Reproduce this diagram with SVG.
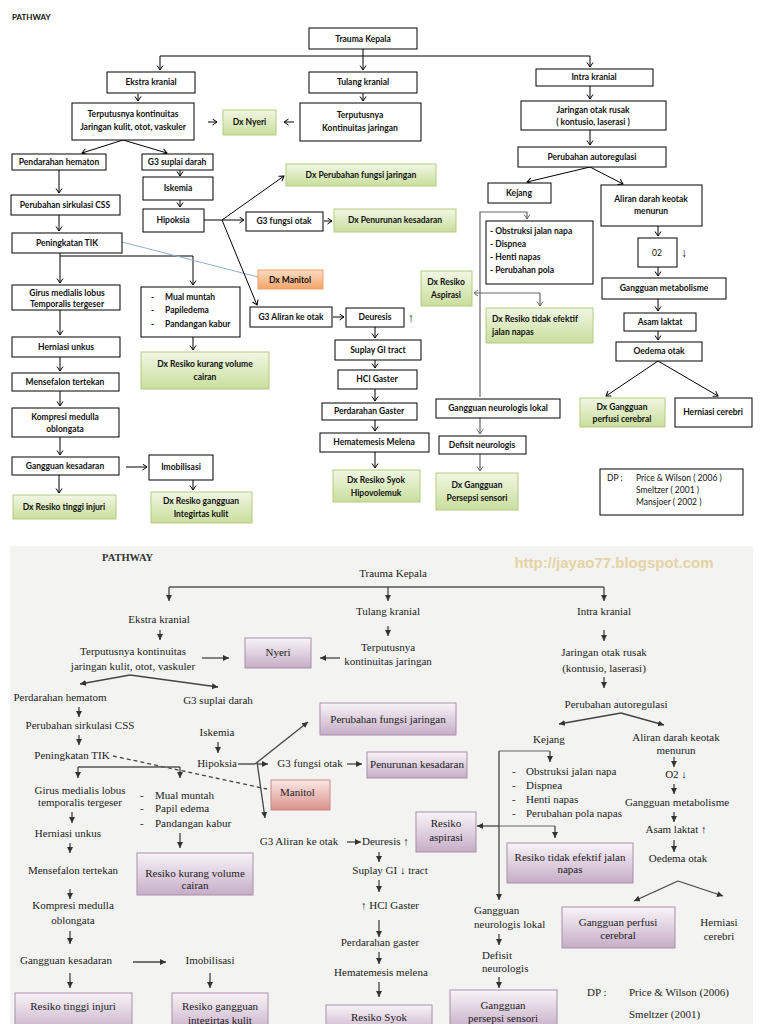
<svg xmlns="http://www.w3.org/2000/svg" width="768" height="1024" viewBox="0 0 768 1024">
<defs>
<linearGradient id="gGreen" x1="0" y1="0" x2="0" y2="1"><stop offset="0" stop-color="#f1f7e4"/><stop offset="1" stop-color="#c9de9c"/></linearGradient>
<linearGradient id="gOrange" x1="0" y1="0" x2="0" y2="1"><stop offset="0" stop-color="#fcdcc2"/><stop offset="1" stop-color="#f5a468"/></linearGradient>
<linearGradient id="gPurple" x1="0" y1="0" x2="0" y2="1"><stop offset="0" stop-color="#f8f4f8"/><stop offset="1" stop-color="#c6adc6"/></linearGradient>
<linearGradient id="gRed" x1="0" y1="0" x2="0" y2="1"><stop offset="0" stop-color="#fbe8e6"/><stop offset="1" stop-color="#d9918c"/></linearGradient>
<marker id="aOpen" markerWidth="8" markerHeight="8" refX="5" refY="3.5" orient="auto" markerUnits="userSpaceOnUse"><path d="M0.5,0.5 L5,3.5 L0.5,6.5" fill="none" stroke="#000" stroke-width="1"/></marker>
<marker id="aGray" markerWidth="8" markerHeight="8" refX="5" refY="3.5" orient="auto" markerUnits="userSpaceOnUse"><path d="M0.5,0.5 L5,3.5 L0.5,6.5" fill="none" stroke="#666" stroke-width="1"/></marker>
<marker id="aFill" markerWidth="8" markerHeight="8" refX="6" refY="3" orient="auto" markerUnits="userSpaceOnUse"><path d="M0,0 L6,3 L0,6 Z" fill="#333"/></marker>
</defs>
<style>
.b{fill:#fff;stroke:#000;stroke-width:1}
.g{fill:url(#gGreen);stroke:#b3cb80;stroke-width:1}
.o{fill:url(#gOrange);stroke:#eda06a;stroke-width:1}
.p{fill:url(#gPurple);stroke:#a990a9;stroke-width:1}
.r{fill:url(#gRed);stroke:#c98a86;stroke-width:1}
.t{font-family:Lato,"Liberation Sans",sans-serif;font-weight:700;font-size:8.5px;fill:#111;text-anchor:middle}
.tl{font-family:Lato,"Liberation Sans",sans-serif;font-weight:700;font-size:8.5px;fill:#111}
.ar{font-family:"Liberation Serif",serif;font-weight:400;fill:#111;text-anchor:middle}
.s{font-family:"Liberation Serif",serif;font-size:11px;fill:#1c1c1c;text-anchor:middle}
.sl{font-family:"Liberation Serif",serif;font-size:11px;fill:#1c1c1c}
.c{fill:none;stroke:#000;stroke-width:1;marker-end:url(#aOpen)}
.cn{fill:none;stroke:#000;stroke-width:1}
.cg{fill:none;stroke:#666;stroke-width:1.2}
.cgA{fill:none;stroke:#666;stroke-width:1.2;marker-end:url(#aGray)}
.k{fill:none;stroke:#444;stroke-width:1.3;marker-end:url(#aFill)}
.kn{fill:none;stroke:#555;stroke-width:1.5}
</style>
<rect width="768" height="1024" fill="#fff"/>

<!-- ================= TOP DIAGRAM ================= -->
<text x="12" y="20" class="tl" style="font-size:8px">PATHWAY</text>

<g id="connectors-top">
<path class="cn" d="M363 49 V56 M160 56 H590"/>
<path class="c" d="M160 56 V70"/>
<path class="c" d="M363 56 V70"/>
<path class="c" d="M590 56 V67"/>
<path class="c" d="M138 94 V101"/>
<path class="c" d="M363 93 V101"/>
<path class="c" d="M590 86 V99"/>
<path class="c" d="M590 130 V145"/>
<path class="c" d="M208 122 H217"/>
<path class="c" d="M294 122 H284"/>
<path class="c" d="M123 140 L82 153"/>
<path class="c" d="M123 140 L167 153"/>
<path class="c" d="M59 170 V193"/>
<path class="c" d="M180 170 V176"/>
<path class="c" d="M180 200 V207"/>
<path class="c" d="M59 215 V231"/>
<path class="cn" d="M60 253 V256 H193"/>
<path class="c" d="M60 256 V283"/>
<path class="c" d="M193 256 V285"/>
<path d="M122 242 L258 277" fill="none" stroke="#8eaed6" stroke-width="1"/>
<path class="c" d="M60 310 V335"/>
<path class="c" d="M193 337 V350"/>
<path class="c" d="M60 357 V371"/>
<path class="c" d="M60 391 V406"/>
<path class="c" d="M60 437 V455"/>
<path class="c" d="M126 467 H147"/>
<path class="c" d="M193 480 V490"/>
<path class="c" d="M59 475 V493"/>
<path class="cn" d="M204 220 H222"/>
<path class="c" d="M222 220 L284 176"/>
<path class="c" d="M222 220 H244"/>
<path class="c" d="M222 220 L257 305"/>
<path class="c" d="M324 221 H332"/>
<path class="c" d="M333 317 H344"/>
<path class="c" d="M375 327 V338"/>
<path class="c" d="M375 360 V368"/>
<path class="c" d="M375 389 V401"/>
<path class="c" d="M375 420 V431"/>
<path class="c" d="M375 452 V468"/>
<path class="c" d="M590 167 L527 182"/>
<path class="c" d="M590 167 L623 184"/>
<path class="cgA" d="M480 397 V212 H527 V219"/>
<path class="cg" d="M540 293 H474"/>
<path d="M478 290 L474 293 L478 296" fill="none" stroke="#666" stroke-width="1"/>
<path class="cgA" d="M540 293 V306"/>
<path class="c" d="M658 226 V236"/>
<path class="c" d="M658 267 V276"/>
<path class="c" d="M658 299 V311"/>
<path class="c" d="M658 331 V340"/>
<path class="c" d="M658 361 L606 396"/>
<path class="c" d="M658 361 L718 396"/>
<path class="cgA" d="M480 418 V434"/>
<path class="cgA" d="M480 454 V471"/>
</g>

<g id="t-trauma"><rect class="b" x="309" y="28" width="108" height="21"/><text class="t" x="363" y="42">Trauma Kepala</text></g>
<g id="t-ekstra"><rect class="b" x="107" y="72" width="88" height="21"/><text class="t" x="151" y="85">Ekstra kranial</text></g>
<g id="t-tulang"><rect class="b" x="309" y="72" width="108" height="21"/><text class="t" x="363" y="85">Tulang kranial</text></g>
<g id="t-intra"><rect class="b" x="536" y="69" width="117" height="17"/><text class="t" x="594" y="80">Intra kranial</text></g>
<g id="t-terputus1"><rect class="b" x="72" y="103" width="122" height="37"/><text class="t" x="133" y="117">Terputusnya kontinuitas</text><text class="t" x="133" y="130">Jaringan kulit, otot, vaskuler</text></g>
<g id="t-nyeri"><rect class="g" x="223" y="110" width="53" height="25"/><text class="t" x="249.5" y="125">Dx Nyeri</text></g>
<g id="t-terputus2"><rect class="b" x="300" y="103" width="121" height="38"/><text class="t" x="360" y="118">Terputusnya</text><text class="t" x="360" y="131">Kontinuitas jaringan</text></g>
<g id="t-jaringan"><rect class="b" x="521" y="101" width="145" height="29"/><text class="t" x="593" y="113">Jaringan otak rusak</text><text class="t" x="593" y="125">( kontusio, laserasi )</text></g>
<g id="t-autoreg"><rect class="b" x="518" y="147" width="148" height="20"/><text class="t" x="592" y="160">Perubahan autoregulasi</text></g>
<g id="t-pendarahan"><rect class="b" x="12" y="154" width="94" height="16"/><text class="t" x="59" y="165">Pendarahan hematon</text></g>
<g id="t-g3suplai"><rect class="b" x="142" y="154" width="71" height="16"/><text class="t" x="177" y="165">G3 suplai darah</text></g>
<g id="t-iskemia"><rect class="b" x="143" y="177" width="70" height="23"/><text class="t" x="178" y="191">Iskemia</text></g>
<g id="t-hipoksia"><rect class="b" x="143" y="209" width="61" height="23"/><text class="t" x="173" y="223">Hipoksia</text></g>
<g id="t-sirkulasi"><rect class="b" x="11" y="195" width="109" height="20"/><text class="t" x="65" y="208">Perubahan sirkulasi CSS</text></g>
<g id="t-tik"><rect class="b" x="12" y="233" width="110" height="20"/><text class="t" x="67" y="246">Peningkatan TIK</text></g>
<g id="t-manitol"><rect class="o" x="258" y="270" width="65" height="19"/><text class="t" x="290" y="283">Dx Manitol</text></g>
<g id="t-girus"><rect class="b" x="12" y="285" width="108" height="25"/><text class="t" x="67" y="296">Girus medialis lobus</text><text class="t" x="67" y="307">Temporalis tergeser</text></g>
<g id="t-mual"><rect class="b" x="141" y="287" width="99" height="50"/>
<text class="tl" x="151" y="300">-</text><text class="tl" x="165" y="300">Mual muntah</text>
<text class="tl" x="151" y="313">-</text><text class="tl" x="165" y="313">Papiledema</text>
<text class="tl" x="151" y="327">-</text><text class="tl" x="165" y="327">Pandangan kabur</text></g>
<g id="t-herniasi"><rect class="b" x="12" y="337" width="108" height="20"/><text class="t" x="66" y="350">Herniasi unkus</text></g>
<g id="t-kurangvol"><rect class="g" x="141" y="352" width="128" height="37"/><text class="t" x="205" y="367">Dx Resiko kurang volume</text><text class="t" x="205" y="380">cairan</text></g>
<g id="t-mensefalon"><rect class="b" x="12" y="373" width="107" height="18"/><text class="t" x="65" y="385">Mensefalon tertekan</text></g>
<g id="t-kompresi"><rect class="b" x="12" y="408" width="107" height="29"/><text class="t" x="65" y="420">Kompresi medulla</text><text class="t" x="65" y="432">oblongata</text></g>
<g id="t-kesadaran"><rect class="b" x="12" y="457" width="107" height="18"/><text class="t" x="65" y="469">Gangguan kesadaran</text></g>
<g id="t-imobilisasi"><rect class="b" x="149" y="455" width="64" height="25"/><text class="t" x="181" y="470">Imobilisasi</text></g>
<g id="t-integritas"><rect class="g" x="151" y="492" width="101" height="31"/><text class="t" x="201" y="504">Dx Resiko gangguan</text><text class="t" x="201" y="517">Integirtas kulit</text></g>
<g id="t-injuri"><rect class="g" x="13" y="495" width="103" height="24"/><text class="t" x="64" y="510">Dx Resiko tinggi injuri</text></g>
<g id="t-fungsijar"><rect class="g" x="286" y="164" width="150" height="22"/><text class="t" x="361" y="178">Dx Perubahan fungsi jaringan</text></g>
<g id="t-g3fungsi"><rect class="b" x="246" y="212" width="77" height="19"/><text class="t" x="284" y="224">G3 fungsi otak</text></g>
<g id="t-penurunan"><rect class="g" x="334" y="209" width="122" height="23"/><text class="t" x="395" y="223">Dx Penurunan kesadaran</text></g>
<g id="t-g3aliran"><rect class="b" x="250" y="307" width="82" height="20"/><text class="t" x="291" y="320">G3 Aliran ke otak</text></g>
<g id="t-deuresis"><rect class="b" x="346" y="308" width="58" height="19"/><text class="t" x="375" y="320">Deuresis</text><text class="ar" x="411" y="322" style="font-size:13px">↑</text></g>
<g id="t-suplay"><rect class="b" x="335" y="340" width="86" height="20"/><text class="t" x="378" y="353">Suplay GI tract</text></g>
<g id="t-hcl"><rect class="b" x="338" y="370" width="79" height="19"/><text class="t" x="377" y="382">HCl Gaster</text></g>
<g id="t-perdgaster"><rect class="b" x="322" y="403" width="95" height="17"/><text class="t" x="369" y="414">Perdarahan Gaster</text></g>
<g id="t-hematemesis"><rect class="b" x="320" y="433" width="109" height="19"/><text class="t" x="374" y="445">Hematemesis Melena</text></g>
<g id="t-syok"><rect class="g" x="333" y="470" width="87" height="32"/><text class="t" x="376" y="483">Dx Resiko Syok</text><text class="t" x="376" y="496">Hipovolemuk</text></g>
<g id="t-kejang"><rect class="b" x="488" y="183" width="63" height="20"/><text class="t" x="519" y="196">Kejang</text></g>
<g id="t-aliran"><rect class="b" x="601" y="185" width="101" height="41"/><text class="t" x="651" y="202">Aliran darah keotak</text><text class="t" x="651" y="214">menurun</text></g>
<g id="t-obstruksi"><rect class="b" x="486" y="221" width="107" height="63"/>
<text class="tl" x="490" y="234">- Obstruksi jalan napa</text><text class="tl" x="490" y="247">- Dispnea</text><text class="tl" x="490" y="260">- Henti napas</text><text class="tl" x="490" y="273">- Perubahan pola</text></g>
<g id="t-aspirasi"><rect class="g" x="421" y="271" width="51" height="35"/><text class="t" x="446" y="285">Dx Resiko</text><text class="t" x="446" y="298">Aspirasi</text></g>
<g id="t-efektif"><rect class="g" x="486" y="308" width="107" height="35"/><text class="tl" x="492" y="322">Dx Resiko tidak efektif</text><text class="tl" x="492" y="335">jalan napas</text></g>
<g id="t-o2"><rect class="b" x="638" y="238" width="39" height="29"/><text class="t" x="657" y="256" style="font-weight:400">02</text><text class="ar" x="684" y="257" fill="#111" style="font-size:12px">↓</text></g>
<g id="t-metabolisme"><rect class="b" x="602" y="278" width="124" height="21"/><text class="t" x="664" y="291">Gangguan metabolisme</text></g>
<g id="t-asam"><rect class="b" x="624" y="313" width="72" height="18"/><text class="t" x="660" y="325">Asam laktat</text></g>
<g id="t-oedema"><rect class="b" x="616" y="342" width="86" height="19"/><text class="t" x="659" y="354">Oedema otak</text></g>
<g id="t-perfusi"><rect class="g" x="580" y="398" width="85" height="29"/><text class="t" x="622" y="410">Dx Gangguan</text><text class="t" x="622" y="422">perfusi cerebral</text></g>
<g id="t-herniasicer"><rect class="b" x="675" y="398" width="77" height="29"/><text class="t" x="713" y="415">Herniasi cerebri</text></g>
<g id="t-neurolokal"><rect class="b" x="436" y="399" width="124" height="19"/><text class="t" x="498" y="411">Gangguan neurologis lokal</text></g>
<g id="t-defisit"><rect class="b" x="439" y="436" width="87" height="18"/><text class="t" x="482" y="448">Defisit neurologis</text></g>
<g id="t-persepsi"><rect class="g" x="436" y="473" width="82" height="37"/><text class="t" x="477" y="488">Dx Gangguan</text><text class="t" x="477" y="501">Persepsi sensori</text></g>
<g id="t-dp"><rect class="b" x="600" y="469" width="143" height="46"/>
<text class="tl" x="607" y="481" style="font-weight:400">DP :</text>
<text class="tl" x="636" y="481" style="font-weight:400">Price &amp; Wilson ( 2006 )</text>
<text class="tl" x="636" y="493" style="font-weight:400">Smeltzer ( 2001 )</text>
<text class="tl" x="636" y="505" style="font-weight:400">Mansjoer ( 2002 )</text></g>

<!-- ================= BOTTOM DIAGRAM ================= -->
<rect x="10" y="546" width="743" height="478" fill="#f3f3f1"/>
<text x="102" y="561" style="font-family:'Liberation Serif',serif;font-weight:700;font-size:10.5px;fill:#333">PATHWAY</text>
<text x="614" y="568" text-anchor="middle" style="font-family:'Liberation Sans',sans-serif;font-weight:700;font-size:15px;fill:#e6d3a4">http://jayao77.blogspot.com</text>

<g id="connectors-bottom">
<path class="kn" d="M169 587 H604"/>
<path class="k" d="M169 587 V601"/>
<path class="k" d="M388 587 V601"/>
<path class="k" d="M604 587 V601"/>
<path class="k" d="M160 630 V640"/>
<path class="k" d="M388 626 V636"/>
<path class="k" d="M604 630 V641"/>
<path class="k" d="M202 658 H229"/>
<path class="k" d="M340 658 H320"/>
<path class="k" d="M604 677 V688"/>
<path class="k" d="M130 675 L80 684"/>
<path class="k" d="M130 675 L218 687"/>
<path class="k" d="M79 707 V717"/>
<path class="k" d="M79 735 V745"/>
<path d="M113 756 L267 789" fill="none" stroke="#444" stroke-width="1.3" stroke-dasharray="4 3"/>
<path class="kn" d="M78 767 H180"/>
<path class="k" d="M78 767 V778"/>
<path class="k" d="M180 767 V778"/>
<path class="k" d="M72 812 V823"/>
<path class="k" d="M70 843 V853"/>
<path class="k" d="M70 889 V899"/>
<path class="k" d="M70 931 V944"/>
<path class="k" d="M133 962 H166"/>
<path class="k" d="M210 973 V988"/>
<path class="k" d="M70 973 V988"/>
<path class="k" d="M180 833 V848"/>
<path class="k" d="M218 742 V753"/>
<path class="kn" d="M238 764 H255"/>
<path class="k" d="M255 764 L308 722"/>
<path class="k" d="M258 764 H268"/>
<path class="k" d="M257 762 L265 818"/>
<path class="k" d="M347 764 H362"/>
<path class="k" d="M347 842 H361"/>
<path class="k" d="M379 852 V862"/>
<path class="k" d="M379 880 V892"/>
<path class="k" d="M379 920 V937"/>
<path class="k" d="M379 952 V964"/>
<path class="k" d="M379 982 V997"/>
<path class="k" d="M621 713 L559 724"/>
<path class="k" d="M621 713 L664 725"/>
<path class="cg" d="M499 751 H550"/>
<path class="k" d="M550 751 V762"/>
<path class="k" d="M499 751 V900"/>
<path d="M499 826 H555" fill="none" stroke="#666" stroke-width="1.2"/>
<path class="k" d="M499 826 H477"/>
<path class="k" d="M555 826 V838"/>
<path class="k" d="M674 757 V767"/>
<path class="k" d="M674 784 V794"/>
<path class="k" d="M674 812 V822"/>
<path class="k" d="M674 840 V852"/>
<path class="k" d="M678 881 L634 901"/>
<path class="k" d="M678 881 L723 896"/>
<path class="k" d="M499 934 V945"/>
<path class="k" d="M499 977 V988"/>
</g>

<g id="b-trauma"><text class="s" x="393" y="577">Trauma Kepala</text></g>
<g id="b-ekstra"><text class="s" x="159" y="623">Ekstra kranial</text></g>
<g id="b-tulang"><text class="s" x="388" y="615">Tulang kranial</text></g>
<g id="b-intra"><text class="s" x="604" y="615">Intra kranial</text></g>
<g id="b-terputus1"><text class="s" x="133" y="655">Terputusnya kontinuitas</text><text class="s" x="133" y="670">jaringan kulit, otot, vaskuler</text></g>
<g id="b-nyeri"><rect class="p" x="245" y="638" width="66" height="30"/><text class="s" x="278" y="656">Nyeri</text></g>
<g id="b-terputus2"><text class="s" x="388" y="651">Terputusnya</text><text class="s" x="388" y="665">kontinuitas jaringan</text></g>
<g id="b-jaringan"><text class="s" x="604" y="656">Jaringan otak rusak</text><text class="s" x="604" y="672">(kontusio, laserasi)</text></g>
<g id="b-autoreg"><text class="s" x="616" y="708">Perubahan autoregulasi</text></g>
<g id="b-pendarahan"><text class="s" x="60" y="701">Perdarahan hematom</text></g>
<g id="b-g3suplai"><text class="s" x="218" y="704">G3 suplai darah</text></g>
<g id="b-sirkulasi"><text class="s" x="80" y="729">Perubahan sirkulasi CSS</text></g>
<g id="b-tik"><text class="s" x="72" y="759">Peningkatan TIK</text></g>
<g id="b-girus"><text class="s" x="80" y="794">Girus medialis lobus</text><text class="s" x="80" y="806">temporalis tergeser</text></g>
<g id="b-herniasi"><text class="s" x="68" y="837">Herniasi unkus</text></g>
<g id="b-mensefalon"><text class="s" x="73" y="874">Mensefalon tertekan</text></g>
<g id="b-kompresi"><text class="s" x="73" y="909">Kompresi medulla</text><text class="s" x="73" y="924">oblongata</text></g>
<g id="b-kesadaran"><text class="s" x="66" y="964">Gangguan kesadaran</text></g>
<g id="b-imobilisasi"><text class="s" x="210" y="964">Imobilisasi</text></g>
<g id="b-injuri"><rect class="p" x="15" y="993" width="117" height="40"/><text class="s" x="73" y="1010">Resiko tinggi injuri</text></g>
<g id="b-integritas"><rect class="p" x="172" y="993" width="96" height="40"/><text class="s" x="220" y="1010">Resiko gangguan</text><text class="s" x="220" y="1024">integirtas kulit</text></g>
<g id="b-mual">
<text class="sl" x="140" y="799">-</text><text class="sl" x="155" y="799">Mual muntah</text>
<text class="sl" x="140" y="812">-</text><text class="sl" x="155" y="812">Papil edema</text>
<text class="sl" x="140" y="827">-</text><text class="sl" x="155" y="827">Pandangan kabur</text></g>
<g id="b-kurangvol"><rect class="p" x="137" y="853" width="116" height="42"/><text class="s" x="195" y="877">Resiko kurang volume</text><text class="s" x="195" y="889">cairan</text></g>
<g id="b-iskemia"><text class="s" x="217" y="736">Iskemia</text></g>
<g id="b-hipoksia"><text class="s" x="217" y="767">Hipoksia</text></g>
<g id="b-fungsijar"><rect class="p" x="320" y="703" width="136" height="32"/><text class="s" x="388" y="723">Perubahan fungsi jaringan</text></g>
<g id="b-g3fungsi"><text class="s" x="310" y="767">G3 fungsi otak</text></g>
<g id="b-penurunan"><rect class="p" x="367" y="752" width="100" height="26"/><text class="s" x="417" y="768">Penurunan kesadaran</text></g>
<g id="b-manitol"><rect class="r" x="271" y="780" width="59" height="30"/><text class="sl" x="280" y="796">Manitol</text></g>
<g id="b-g3aliran"><text class="s" x="299" y="845">G3 Aliran ke otak</text></g>
<g id="b-deuresis"><text class="sl" x="362" y="845">Deuresis ↑</text></g>
<g id="b-aspirasi"><rect class="p" x="416" y="812" width="60" height="40"/><text class="s" x="446" y="827">Resiko</text><text class="s" x="446" y="841">aspirasi</text></g>
<g id="b-efektif"><rect class="p" x="507" y="843" width="126" height="40"/><text class="s" x="570" y="861">Resiko tidak efektif jalan</text><text class="s" x="570" y="873">napas</text></g>
<g id="b-suplay"><text class="s" x="390" y="874">Suplay GI ↓ tract</text></g>
<g id="b-hcl"><text class="s" x="390" y="909">↑ HCl Gaster</text></g>
<g id="b-perdgaster"><text class="s" x="380" y="946">Perdarahan gaster</text></g>
<g id="b-hematemesis"><text class="s" x="381" y="976">Hematemesis melena</text></g>
<g id="b-syok"><rect class="p" x="326" y="1005" width="106" height="30"/><text class="s" x="379" y="1021">Resiko Syok</text></g>
<g id="b-kejang"><text class="s" x="549" y="743">Kejang</text></g>
<g id="b-aliran"><text class="s" x="676" y="741">Aliran darah keotak</text><text class="s" x="676" y="754">menurun</text></g>
<g id="b-obstruksi">
<text class="sl" x="512" y="775">-</text><text class="sl" x="526" y="775">Obstruksi jalan napa</text>
<text class="sl" x="512" y="789">-</text><text class="sl" x="526" y="789">Dispnea</text>
<text class="sl" x="512" y="803">-</text><text class="sl" x="526" y="803">Henti napas</text>
<text class="sl" x="512" y="817">-</text><text class="sl" x="526" y="817">Perubahan pola napas</text></g>
<g id="b-o2"><text class="s" x="676" y="778">O2 ↓</text></g>
<g id="b-metabolisme"><text class="s" x="677" y="806">Gangguan metabolisme</text></g>
<g id="b-asam"><text class="s" x="676" y="833">Asam laktat ↑</text></g>
<g id="b-oedema"><text class="s" x="678" y="862">Oedema otak</text></g>
<g id="b-perfusi"><rect class="p" x="562" y="907" width="113" height="41"/><text class="s" x="618" y="926">Gangguan perfusi</text><text class="s" x="618" y="939">cerebral</text></g>
<g id="b-herniasicer"><text class="s" x="719" y="926">Herniasi</text><text class="s" x="719" y="940">cerebri</text></g>
<g id="b-neurolokal"><text class="sl" x="474" y="914">Gangguan</text><text class="sl" x="474" y="928">neurologis lokal</text></g>
<g id="b-defisit"><text class="sl" x="482" y="959">Defisit</text><text class="sl" x="482" y="972">neurologis</text></g>
<g id="b-persepsi"><rect class="p" x="450" y="990" width="107" height="40"/><text class="s" x="503" y="1009">Gangguan</text><text class="s" x="503" y="1022">persepsi sensori</text></g>
<g id="b-dp"><text class="sl" x="587" y="996">DP :</text><text class="sl" x="629" y="996">Price &amp; Wilson (2006)</text><text class="sl" x="629" y="1018">Smeltzer (2001)</text></g>
</svg>
